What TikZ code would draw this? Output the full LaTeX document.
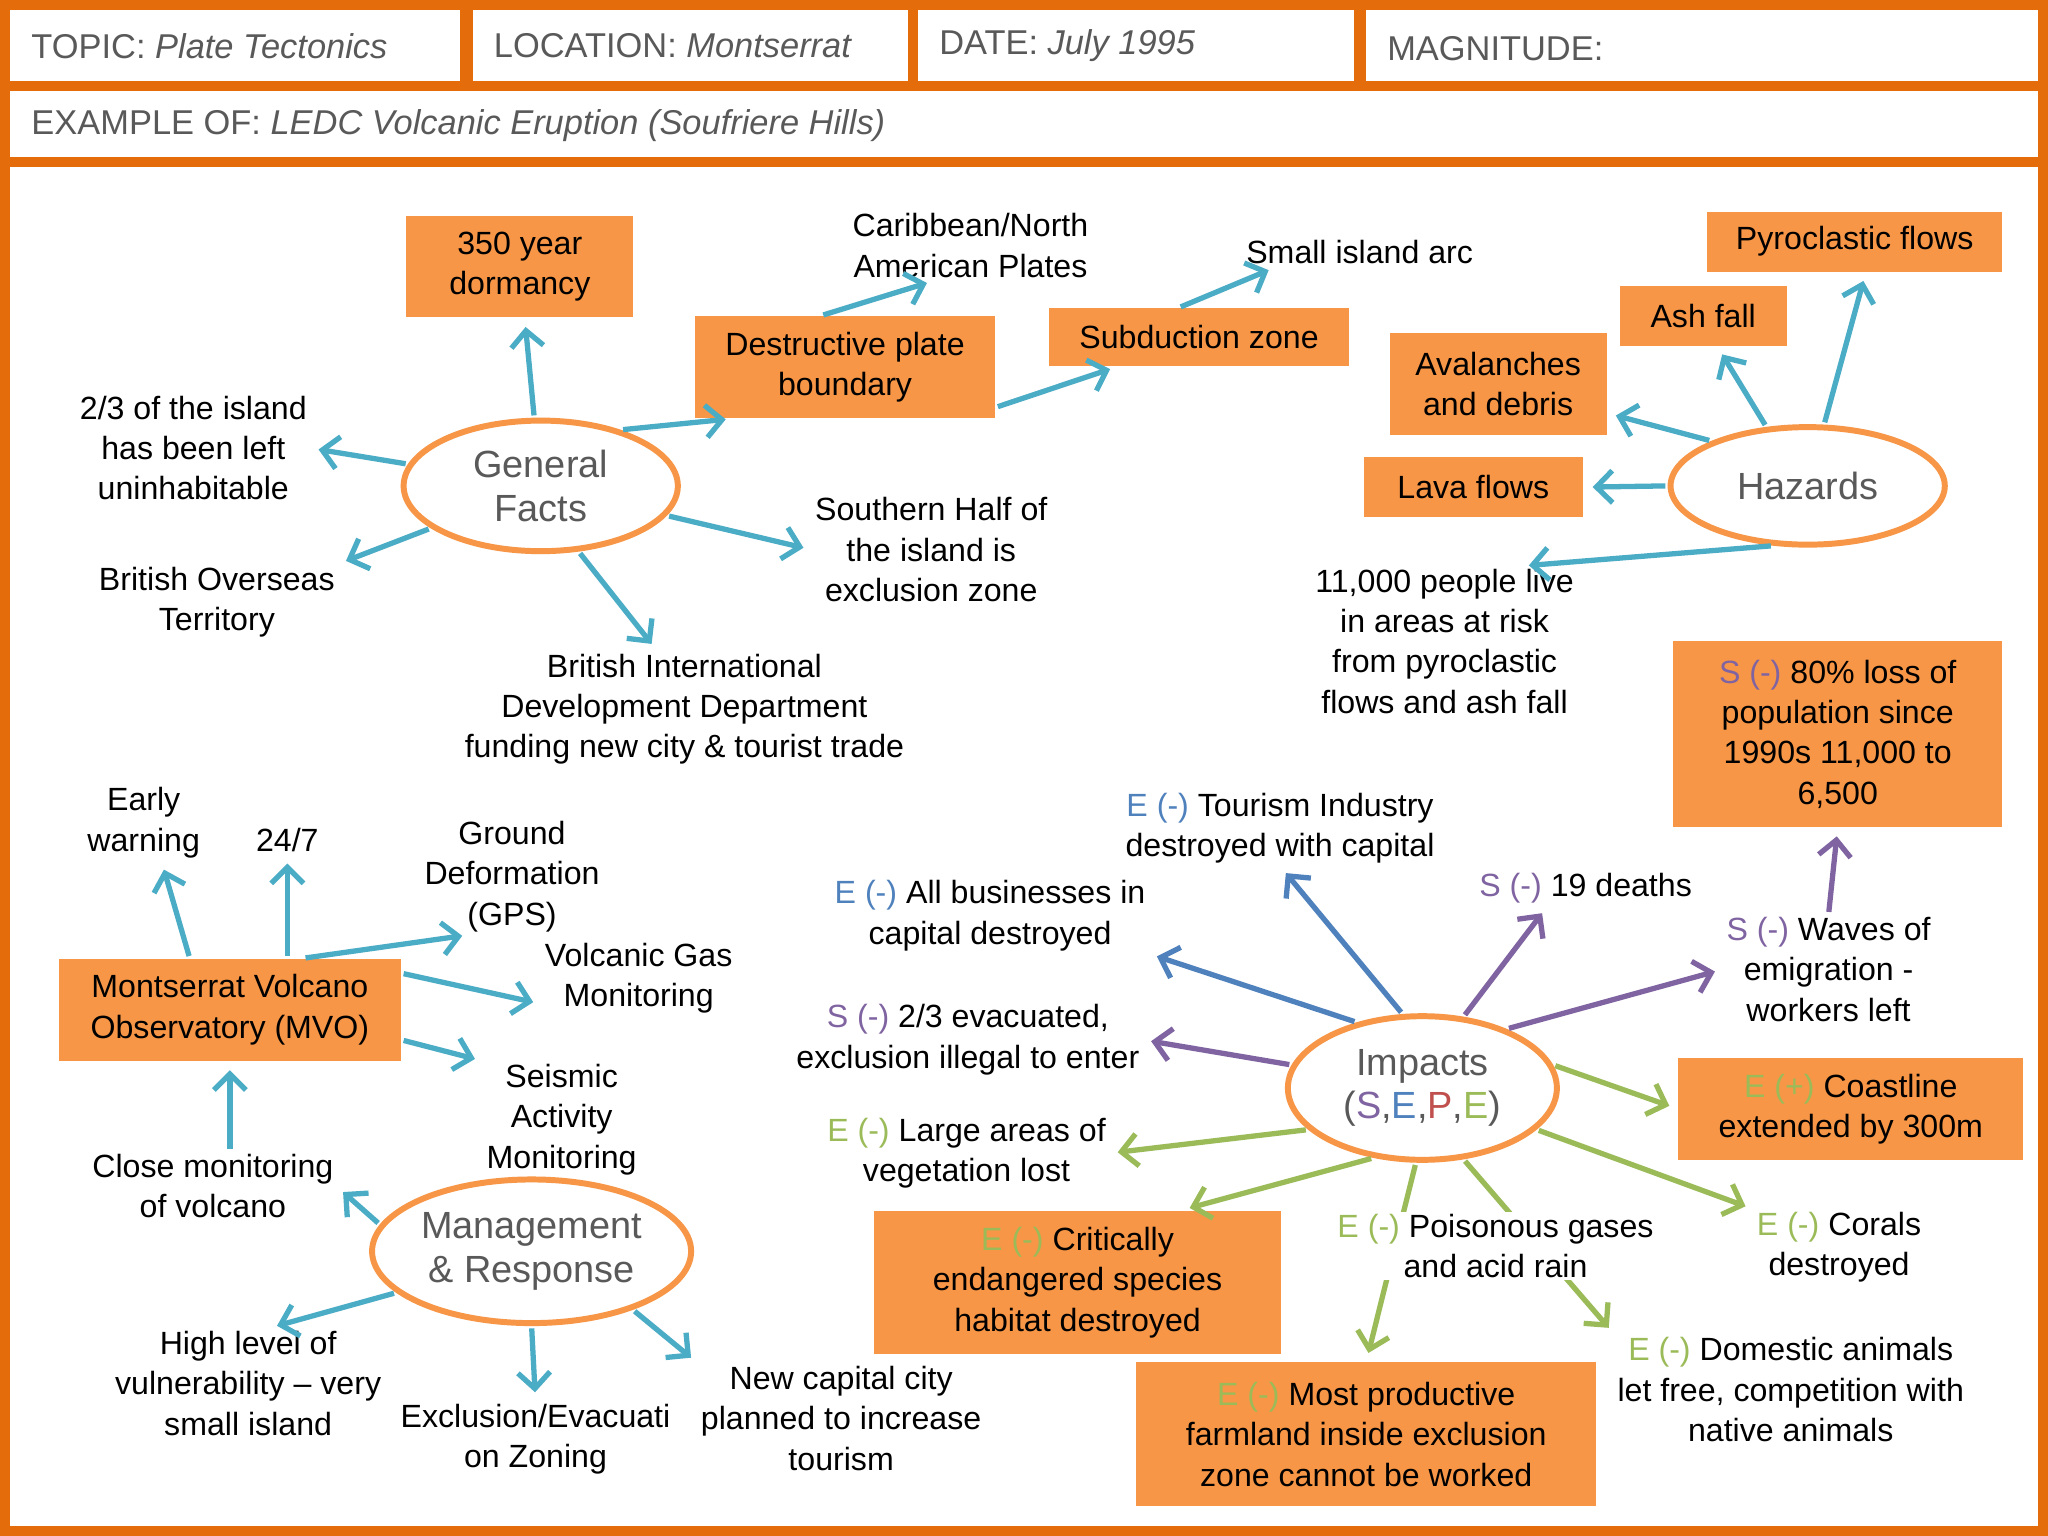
\documentclass[tikz,border=0pt]{standalone}
\usepackage{fontspec}
\setmainfont{Liberation Sans}
\usetikzlibrary{arrows.meta,shapes.geometric}
\definecolor{frameorange}{HTML}{E46C0A}
\definecolor{boxorange}{HTML}{F79646}
\definecolor{teal}{HTML}{4BACC6}
\definecolor{sepurple}{HTML}{8064A2}
\definecolor{seblue}{HTML}{4F81BD}
\definecolor{segreen}{HTML}{9BBB59}
\definecolor{sered}{HTML}{C0504D}
\definecolor{headgray}{HTML}{595959}
\begin{document}
\begin{tikzpicture}[x=0.02cm,y=-0.02cm,
  every node/.style={font=\fontsize{14}{17.6}\selectfont, align=center, inner sep=1pt},
  box/.style={fill=boxorange, inner sep=0pt},
  topic/.style={ellipse, draw=boxorange, line width=2.6pt, fill=white, text=headgray,
    font=\fontsize{16.5}{19}\selectfont},
  head/.style={anchor=west, text=headgray, font=\fontsize{15}{17}\selectfont},
  arr/.style={line width=2.3pt, -{Straight Barb[length=7pt,width=14pt]}, shorten >=4pt, shorten <=1pt},
  tarr/.style={arr, teal},
  parr/.style={arr, sepurple},
  barr/.style={arr, seblue},
  garr/.style={arr, segreen}]

% frame
\fill[frameorange] (0,0) rectangle (1568,1176);
\fill[white] (8,8) rectangle (352,62);
\fill[white] (362,8) rectangle (695,62);
\fill[white] (703,8) rectangle (1037,62);
\fill[white] (1046,8) rectangle (1560,62);
\fill[white] (8,70) rectangle (1560,120);
\fill[white] (8,128) rectangle (1560,1168);

\node[head] (topic) at (22,35) {TOPIC: \textit{Plate Tectonics}};
\node[head] (loc) at (376,35) {LOCATION: \textit{Montserrat}};
\node[head] (date) at (717,35) {DATE: \textit{July 1995}};
\node[head] (mag) at (1060,37) {MAGNITUDE:};
\node[head] (example) at (22,96) {EXAMPLE OF: \textit{LEDC Volcanic Eruption (Soufriere Hills)}};

% general facts
\node[topic, minimum width=4.2cm, minimum height=2cm] (gf) at (414,372) {General\\Facts};
\node[box, minimum width=3.48cm, minimum height=1.56cm] (dorm) at (398,204) {350 year\\dormancy};
\node[box, minimum width=4.6cm, minimum height=1.56cm] (dpb) at (647,281) {Destructive plate\\boundary};
\node (carib) at (743,188) {Caribbean/North\\American Plates};
\node[box, minimum width=4.6cm, minimum height=0.88cm] (sub) at (918,258) {Subduction zone};
\node (arc) at (1041,193) {Small island arc};
\node (left) at (148,343) {2/3 of the island\\has been left\\uninhabitable};
\node (bot) at (166,461) {British Overseas\\Territory};
\node (bidd) at (524,543) {British International\\Development Department\\funding new city \& tourist trade};
\node (south) at (713,421) {Southern Half of\\the island is\\exclusion zone};

\draw[tarr] (gf) -- (dorm);
\draw[tarr] (gf.35) -- (dpb.205);
\draw[tarr] (gf) -- (left.east);
\draw[tarr] (gf) -- (bot.north east);
\draw[tarr] (gf.-60) -- (bidd.115);
\draw[tarr] (gf) -- (south.west);
\draw[tarr] (dpb.-15) -- (sub.200);
\draw[tarr] (dpb.115) -- (carib.225);
\draw[tarr] (sub.125) -- (arc.190);

% hazards
\node[topic, minimum width=4.2cm, minimum height=1.8cm] (haz) at (1384,372) {Hazards};
\node[box, minimum width=4.52cm, minimum height=0.92cm] (pyro) at (1420,185) {Pyroclastic flows};
\node[box, minimum width=2.56cm, minimum height=0.92cm] (ash) at (1304,242) {Ash fall};
\node[box, minimum width=3.32cm, minimum height=1.56cm] (aval) at (1147,294) {Avalanches\\and debris};
\node[box, minimum width=3.36cm, minimum height=0.92cm] (lava) at (1128,373) {Lava flows};
\node (people) at (1106,491) {11,000 people live\\in areas at risk\\from pyroclastic\\flows and ash fall};

\draw[tarr] (haz.75) -- (pyro.-70);
\draw[tarr] (haz.125) -- (ash.-65);
\draw[tarr] (haz.155) -- (aval.-15);
\draw[tarr] (haz.west) -- (lava.east);
\draw[tarr] (haz.240) -- (people.45);

% management
\node[topic, minimum width=4.56cm, minimum height=2.2cm] (man) at (407,958) {Management\\\& Response};
\node[box, minimum width=5.24cm, minimum height=1.56cm] (mvo) at (176,773) {Montserrat Volcano\\Observatory (MVO)};
\node (early) at (110,630) {Early\\warning};
\node (allday) at (220,643) {24/7};
\node (gps) at (392,671) {Ground\\Deformation\\(GPS)};
\node (gas) at (489,749) {Volcanic Gas\\Monitoring};
\node (seis) at (430,857) {Seismic\\Activity\\Monitoring};
\node (close) at (163,908) {Close monitoring\\of volcano};
\node (vuln) at (190,1059) {High level of\\vulnerability -- very\\small island};
\node (zone) at (410,1102) {Exclusion/Evacuati\\on Zoning};
\node (capital) at (644,1086) {New capital city\\planned to increase\\tourism};

\draw[tarr] (mvo.128) -- (early.-65);
\draw[tarr] (mvo.north -| allday.south) -- (allday.south);
\draw[tarr] (mvo.35) -- (gps.235);
\draw[tarr] (mvo.12) -- (gas.195);
\draw[tarr] (mvo.-10) -- (seis.north west);
\draw[tarr] (close.north -| mvo.south) -- (mvo.south);
\draw[tarr] (man.170) -- (close.east);
\draw[tarr] (man.197) -- (vuln.70);
\draw[tarr] (man.south) -- (zone.north);
\draw[tarr] (man.-30) -- (capital.north west);

% impacts
\node[topic, minimum width=4.12cm, minimum height=2.2cm] (imp) at (1089,833)
  {Impacts\\(\textcolor{sepurple}{S},\textcolor{seblue}{E},\textcolor{sered}{P},\textcolor{segreen}{E})};
\node[box, minimum width=5.04cm, minimum height=2.84cm] (loss) at (1407,562)
  {\textcolor{sepurple}{S (-)} 80\% loss of\\population since\\1990s 11,000 to\\6,500};
\node (waves) at (1400,742) {\textcolor{sepurple}{S (-)} Waves of\\emigration -\\workers left};
\node (tour) at (980,634) {\textcolor{seblue}{E (-)} Tourism Industry\\destroyed with capital};
\node (bus) at (758,701) {\textcolor{seblue}{E (-)} All businesses in\\capital destroyed};
\node (deaths) at (1214,680) {\textcolor{sepurple}{S (-)} 19 deaths};
\node (evac) at (741,796) {\textcolor{sepurple}{S (-)} 2/3 evacuated,\\exclusion illegal to enter};
\node (veg) at (740,883) {\textcolor{segreen}{E (-)} Large areas of\\vegetation lost};
\node[box, minimum width=5.28cm, minimum height=1.56cm] (coast) at (1417,849)
  {\textcolor{segreen}{E (+)} Coastline\\extended by 300m};
\node[box, minimum width=6.24cm, minimum height=2.2cm] (species) at (825,982)
  {\textcolor{segreen}{E (-)} Critically\\endangered species\\habitat destroyed};
\node (corals) at (1408,955) {\textcolor{segreen}{E (-)} Corals\\destroyed};
\node (animals) at (1371,1064) {\textcolor{segreen}{E (-)} Domestic animals\\let free, competition with\\native animals};
\node[box, minimum width=7.04cm, minimum height=2.2cm] (farm) at (1046,1098)
  {\textcolor{segreen}{E (-)} Most productive\\farmland inside exclusion\\zone cannot be worked};

\draw[garr] (imp.-95) -- (farm.north);
\draw[garr] (imp.-60) -- (animals.north west);
\node[fill=white] (gases) at (1145,954) {\textcolor{segreen}{E (-)} Poisonous gases\\and acid rain};

\draw[parr] (waves.north) -- (loss.south);
\draw[barr] (imp.135) -- (bus.south east);
\draw[barr] (imp.105) -- (tour.south);
\draw[parr] (imp.60) -- (deaths.205);
\draw[parr] (imp.35) -- (waves.west);
\draw[parr] (imp.170) -- (evac.east);
\draw[garr] (imp.200) -- (veg.east);
\draw[garr] (imp.10) -- (coast.west);
\draw[garr] (imp.235) -- (species.35);
\draw[garr] (imp.-20) -- (corals.north west);
\end{tikzpicture}
\end{document}
